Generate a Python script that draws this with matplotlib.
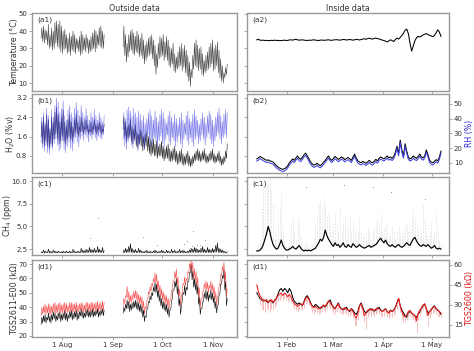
import numpy as np
import pandas as pd
import matplotlib
matplotlib.use("Agg")
import matplotlib.pyplot as plt
import matplotlib.dates as mdates

# ---------------- DATA ----------------
# Outside: segment 1 = 2021-07-19 .. 2021-08-26, segment 2 = 2021-09-07 .. 2021-11-09
out_seg1_start = "2021-07-19"
out_seg2_start = "2021-09-07"

# Temperature (°C) daily highs / lows
temp_hi_1 = [42, 43, 41, 40, 44, 38, 42, 40, 45, 46,
             44, 46, 43, 40, 41, 38, 36, 39, 37, 40,
             38, 36, 35, 37, 40, 38, 36, 38, 36, 35,
             37, 39, 41, 40, 38, 42, 43, 40, 38]
temp_lo_1 = [36, 34, 33, 35, 32, 30, 31, 29, 30, 33,
             31, 30, 28, 27, 29, 30, 27, 28, 26, 29,
             28, 27, 30, 28, 26, 27, 29, 28, 30, 27,
             28, 29, 30, 28, 30, 32, 31, 30, 30]
temp_hi_2 = [43, 38, 33, 38, 40, 41, 39, 37, 40, 38,
             36, 39, 35, 32, 34, 36, 37, 38, 35, 32,
             27, 33, 37, 36, 38, 34, 37, 35, 31, 30,
             33, 27, 25, 28, 31, 33, 30, 32, 29, 26,
             22, 18, 26, 33, 35, 32, 30, 31, 27, 23,
             26, 28, 31, 33, 35, 30, 32, 34, 29, 24,
             20, 16, 19, 21]
temp_lo_2 = [31, 26, 22, 25, 28, 29, 27, 26, 28, 27,
             25, 26, 24, 21, 23, 25, 26, 27, 24, 20,
             15, 19, 24, 25, 26, 23, 25, 23, 20, 19,
             21, 17, 16, 18, 19, 20, 17, 19, 16, 14,
             11, 8, 13, 18, 20, 19, 17, 18, 15, 14,
             16, 17, 18, 19, 21, 17, 18, 20, 16, 13,
             11, 10, 13, 15]

# H2O (%v) daily highs / lows
h2o_hi_1 = [2.2, 2.4, 2.1, 2.5, 2.3, 1.9, 2.4, 2.2, 2.6, 2.8,
            2.5, 2.2, 2.4, 2.7, 2.2, 2.0, 2.3, 2.5, 2.2, 2.0,
            2.3, 2.5, 2.2, 2.0, 2.4, 2.2, 2.0, 2.3, 2.1, 1.9,
            2.2, 2.0, 2.3, 2.1, 2.0, 2.2, 2.1, 1.9, 2.1]
h2o_lo_1 = [1.6, 1.3, 1.2, 1.4, 1.2, 1.1, 1.3, 1.2, 1.5, 1.7,
            1.5, 1.3, 1.4, 1.6, 1.4, 1.3, 1.5, 1.6, 1.5, 1.4,
            1.6, 1.8, 1.7, 1.6, 1.8, 1.8, 1.7, 1.9, 1.8, 1.7,
            1.8, 1.7, 1.9, 1.8, 1.7, 1.9, 1.8, 1.7, 1.8]
h2o_hi_2 = [2.4, 2.2, 2.0, 2.1, 2.3, 2.0, 1.9, 2.1, 1.8, 1.7,
            1.9, 1.8, 1.6, 1.7, 1.8, 1.6, 1.5, 1.4, 1.5, 1.3,
            1.4, 1.2, 1.3, 1.4, 1.2, 1.1, 1.2, 1.3, 1.1, 1.0,
            1.1, 1.2, 1.0, 0.9, 1.0, 1.1, 0.9, 0.8, 0.9, 1.0,
            0.8, 0.7, 0.8, 0.9, 1.0, 1.1, 1.0, 0.9, 1.0, 1.1,
            0.9, 0.8, 0.9, 1.0, 1.1, 0.9, 0.8, 0.9, 1.0, 0.8,
            0.7, 0.8, 1.0, 1.3]
h2o_lo_2 = [1.9, 1.6, 1.4, 1.5, 1.6, 1.4, 1.3, 1.5, 1.2, 1.1,
            1.3, 1.2, 1.0, 1.1, 1.2, 1.0, 0.9, 0.8, 0.9, 0.8,
            0.8, 0.7, 0.8, 0.8, 0.7, 0.6, 0.7, 0.7, 0.6, 0.55,
            0.6, 0.65, 0.55, 0.45, 0.5, 0.55, 0.45, 0.4, 0.45, 0.5,
            0.4, 0.35, 0.4, 0.5, 0.6, 0.65, 0.6, 0.55, 0.6, 0.65,
            0.55, 0.5, 0.55, 0.6, 0.65, 0.55, 0.5, 0.55, 0.6, 0.5,
            0.4, 0.45, 0.55, 0.7]

# RH (%) daily highs / lows
rh_hi_1 = [41, 44, 38, 47, 42, 34, 46, 41, 49, 54,
           51, 44, 47, 52, 42, 39, 46, 49, 44, 41,
           47, 51, 46, 42, 49, 44, 41, 47, 42, 39,
           44, 41, 46, 42, 39, 44, 41, 38, 42]
rh_lo_1 = [24, 20, 18, 22, 17, 16, 21, 19, 23, 26,
           22, 18, 20, 25, 19, 17, 21, 24, 20, 18,
           23, 27, 24, 21, 26, 28, 25, 29, 27, 24,
           28, 26, 29, 27, 25, 28, 27, 26, 29]
rh_hi_2 = [44, 40, 46, 48, 45, 42, 47, 44, 41, 45,
           43, 39, 42, 37, 40, 44, 46, 42, 39, 45,
           41, 38, 43, 46, 44, 40, 37, 42, 45, 41,
           38, 43, 40, 36, 41, 44, 39, 37, 42, 45,
           40, 38, 43, 46, 42, 39, 36, 40, 44, 41,
           37, 42, 45, 43, 39, 36, 41, 44, 47, 42,
           38, 43, 46, 44]
rh_lo_2 = [26, 21, 19, 24, 27, 22, 20, 25, 23, 18,
           22, 26, 21, 19, 24, 28, 25, 21, 23, 27,
           24, 20, 25, 28, 23, 21, 26, 29, 24, 22,
           27, 25, 21, 24, 28, 23, 20, 26, 29, 25,
           22, 27, 24, 21, 26, 28, 23, 25, 29, 26,
           22, 27, 30, 26, 23, 21, 25, 28, 30, 26,
           23, 27, 29, 27]

# CH4 (ppm) daily highs / lows
ch4_hi_1 = [2.2, 2.4, 2.3, 2.2, 2.5, 2.3, 2.2, 2.4, 2.3, 2.2,
            2.3, 2.2, 2.2, 2.3, 2.2, 2.3, 2.2, 2.3, 2.2, 2.5,
            2.3, 2.2, 2.3, 2.2, 2.6, 2.4, 2.3, 2.5, 2.4, 2.7,
            2.5, 2.4, 2.6, 2.4, 2.8, 2.5, 2.4, 2.7, 2.3]
ch4_lo_1 = [2.08, 2.10, 2.07, 2.09, 2.11, 2.08, 2.06, 2.10, 2.09, 2.07,
            2.08, 2.10, 2.09, 2.07, 2.08, 2.10, 2.09, 2.08, 2.07, 2.11,
            2.09, 2.08, 2.10, 2.08, 2.12, 2.10, 2.09, 2.11, 2.10, 2.13,
            2.11, 2.10, 2.12, 2.10, 2.14, 2.11, 2.10, 2.12, 2.09]
ch4_hi_2 = [2.4, 2.6, 2.5, 2.8, 3.1, 2.6, 2.4, 2.5, 2.3, 2.6,
            2.4, 2.3, 2.2, 2.3, 2.4, 2.2, 2.3, 2.2, 2.3, 2.4,
            2.3, 2.2, 2.3, 2.4, 2.3, 2.2, 2.4, 2.3, 2.2, 2.5,
            2.3, 2.4, 2.2, 2.3, 2.5, 2.3, 2.4, 2.3, 2.2, 2.3,
            2.4, 2.6, 2.5, 2.7, 2.6, 2.5, 2.4, 2.6, 2.8, 2.5,
            2.4, 2.7, 2.5, 2.4, 2.6, 2.5, 2.9, 3.2, 2.6, 2.5,
            2.4, 2.3, 2.2, 2.2]
ch4_lo_2 = [2.12, 2.10, 2.11, 2.13, 2.15, 2.12, 2.10, 2.11, 2.09, 2.12,
            2.10, 2.09, 2.08, 2.09, 2.10, 2.08, 2.09, 2.08, 2.09, 2.10,
            2.09, 2.08, 2.09, 2.10, 2.09, 2.08, 2.10, 2.09, 2.08, 2.11,
            2.09, 2.10, 2.08, 2.09, 2.11, 2.09, 2.10, 2.09, 2.08, 2.09,
            2.10, 2.12, 2.11, 2.13, 2.12, 2.11, 2.10, 2.12, 2.14, 2.11,
            2.10, 2.13, 2.11, 2.10, 2.12, 2.11, 2.15, 2.17, 2.12, 2.11,
            2.10, 2.09, 2.08, 2.08]
ch4_out_dates = ["2021-08-18", "2021-08-23", "2021-09-19", "2021-09-28", "2021-10-14",
                 "2021-10-16", "2021-10-19", "2021-10-20", "2021-10-22", "2021-10-24",
                 "2021-10-27", "2021-11-02"]
ch4_out_vals = [3.7, 5.9, 3.8, 2.9, 3.1, 3.4, 2.8, 4.5, 3.0, 2.9, 3.5, 2.8]

# TGS2611-E00 (kOhm) daily highs / lows
tgs11_hi_1 = [33, 34, 35, 33, 36, 34, 35, 37, 36, 34,
              36, 37, 35, 36, 38, 36, 35, 37, 38, 36,
              37, 38, 36, 37, 39, 37, 36, 38, 39, 37,
              38, 39, 37, 38, 39, 37, 38, 39, 38]
tgs11_lo_1 = [28, 29, 30, 29, 31, 30, 29, 31, 32, 30,
              31, 32, 30, 31, 32, 31, 30, 32, 33, 31,
              32, 33, 31, 32, 34, 33, 32, 33, 34, 33,
              33, 34, 33, 34, 35, 33, 34, 35, 34]
tgs11_hi_2 = [40, 42, 45, 44, 42, 43, 44, 45, 44, 43,
              42, 41, 38, 34, 38, 44, 48, 50, 54, 57,
              56, 52, 49, 46, 44, 43, 42, 40, 38, 44,
              52, 58, 60, 55, 46, 40, 50, 55, 54, 58,
              64, 70, 65, 60, 58, 55, 47, 39, 44, 50,
              52, 51, 49, 52, 50, 48, 44, 41, 48, 56,
              62, 66, 58, 46]
tgs11_lo_2 = [36, 37, 39, 39, 37, 38, 39, 40, 39, 38,
              37, 36, 33, 30, 33, 39, 43, 45, 48, 51,
              50, 47, 44, 41, 39, 38, 37, 35, 33, 38,
              46, 52, 54, 49, 41, 35, 44, 49, 48, 52,
              58, 64, 59, 54, 52, 49, 42, 35, 39, 44,
              46, 45, 44, 46, 45, 43, 39, 36, 42, 50,
              56, 60, 52, 41]

# TGS2600 (kOhm) daily highs / lows
tgs00_hi_1 = [28, 29, 31, 29, 31, 30, 29, 31, 32, 30,
              31, 32, 30, 31, 32, 31, 30, 32, 32, 31,
              31, 32, 30, 31, 32, 31, 30, 32, 32, 31,
              32, 32, 31, 32, 33, 31, 32, 33, 32]
tgs00_lo_1 = [22, 23, 24, 23, 24, 23, 23, 24, 25, 23,
              24, 25, 24, 24, 25, 24, 24, 25, 25, 24,
              25, 25, 24, 25, 26, 25, 24, 25, 26, 25,
              25, 26, 25, 26, 26, 25, 26, 26, 26]
tgs00_hi_2 = [35, 37, 44, 40, 37, 38, 40, 41, 40, 38,
              37, 36, 33, 29, 33, 40, 44, 46, 50, 54,
              53, 48, 45, 42, 40, 38, 37, 35, 33, 40,
              48, 55, 57, 51, 42, 35, 46, 51, 50, 55,
              61, 63, 62, 57, 55, 51, 43, 34, 40, 46,
              48, 47, 45, 48, 46, 44, 40, 36, 44, 53,
              59, 62, 55, 42]
tgs00_lo_2 = [29, 31, 36, 34, 31, 32, 34, 35, 34, 32,
              31, 30, 27, 23, 27, 34, 38, 40, 44, 47,
              46, 42, 39, 36, 34, 32, 31, 29, 27, 34,
              42, 48, 50, 45, 36, 29, 40, 45, 44, 48,
              54, 57, 55, 50, 48, 45, 37, 28, 34, 40,
              42, 41, 39, 42, 40, 38, 34, 30, 38, 46,
              52, 55, 48, 36]

# Inside: daily values 2022-01-13 .. 2022-05-06
in_start = "2022-01-13"
in_temp = [35.0, 35.3, 34.8, 34.7, 34.8, 34.6, 34.7, 34.5, 34.6, 34.7,
           34.6, 34.8, 34.6, 34.7, 34.5, 34.6, 34.7, 34.8, 34.6,
           34.7, 34.9, 35.0, 34.8, 35.1, 35.3, 35.0, 34.8, 34.9, 35.0,
           34.8, 34.7, 34.6, 34.8, 34.7, 34.9, 35.0, 34.8, 34.7, 34.6,
           34.8, 34.9, 34.7, 34.8, 34.9, 35.0, 34.8, 34.7,
           34.9, 35.0, 35.1, 34.9, 34.8, 35.0, 35.2, 35.1, 34.9, 35.0,
           35.2, 35.0, 34.8, 35.0, 35.3, 35.1, 34.9, 35.2, 35.4, 35.6,
           35.3, 35.7, 35.9, 35.6, 35.4, 35.8, 36.0, 35.7, 35.5, 35.2, 34.8,
           34.6, 34.2, 33.8, 34.4, 35.0, 34.6, 34.0, 35.2, 36.0, 35.4,
           36.4, 37.5, 38.8, 40.5, 41.2, 38.5, 33.0, 28.5, 31.5, 34.5,
           36.2, 37.0, 36.6, 37.2, 37.8, 38.2, 38.6, 38.0, 37.6, 37.2,
           36.8, 37.6, 39.0, 40.8, 39.5, 37.0]
in_h2o = [0.68, 0.72, 0.78, 0.74, 0.70, 0.66, 0.62, 0.64, 0.60, 0.58,
          0.55, 0.48, 0.40, 0.35, 0.30, 0.27, 0.25, 0.28, 0.32,
          0.40, 0.52, 0.60, 0.68, 0.62, 0.72, 0.80, 0.70, 0.66, 0.75,
          0.85, 0.92, 0.80, 0.68, 0.55, 0.48, 0.42, 0.45, 0.50, 0.44,
          0.40, 0.46, 0.55, 0.62, 0.72, 0.80, 0.68, 0.62,
          0.70, 0.78, 0.72, 0.66, 0.70, 0.76, 0.72, 0.65, 0.70, 0.74,
          0.68, 0.62, 0.75, 0.88, 0.72, 0.60, 0.55, 0.52, 0.58, 0.54,
          0.50, 0.56, 0.62, 0.55, 0.52, 0.58, 0.66, 0.60, 0.70, 0.76, 0.72,
          0.68, 0.74, 0.80, 0.72, 0.76, 0.70, 0.78, 0.95, 1.20, 0.90,
          1.45, 1.05, 0.80, 1.30, 1.00, 0.75, 0.68, 0.72, 0.80, 0.74,
          0.70, 0.78, 0.88, 0.76, 0.72, 0.80, 1.05, 0.85, 0.62, 0.55,
          0.52, 0.58, 0.65, 0.60, 0.75, 1.00]
in_rh = [11.3, 11.9, 12.9, 12.2, 11.6, 10.9, 10.3, 10.6, 9.9, 9.6,
         9.1, 7.9, 6.7, 5.9, 5.0, 4.6, 4.2, 4.7, 5.4,
         6.7, 8.6, 9.9, 11.3, 10.3, 11.9, 13.2, 11.6, 10.9, 12.4,
         14.1, 15.2, 13.2, 11.3, 9.1, 7.9, 7.0, 7.5, 8.3, 7.3,
         6.7, 7.7, 9.1, 10.3, 11.9, 13.2, 11.3, 10.3,
         11.6, 12.9, 11.9, 10.9, 11.6, 12.6, 11.9, 10.8, 11.6, 12.2,
         11.3, 10.3, 12.4, 14.5, 11.9, 9.9, 9.1, 8.6, 9.6, 9.0,
         8.3, 9.3, 10.3, 9.1, 8.6, 9.6, 10.9, 9.9, 11.6, 12.6, 11.9,
         11.3, 12.2, 13.2, 11.9, 12.6, 11.6, 12.9, 15.7, 19.8, 14.9,
         23.9, 17.3, 13.2, 21.4, 16.5, 12.4, 11.3, 11.9, 13.2, 12.2,
         11.6, 12.9, 14.5, 12.6, 11.9, 13.2, 17.3, 14.1, 10.3, 9.1,
         8.6, 9.6, 10.8, 9.9, 12.4, 16.5]
in_ch4 = [2.3, 2.3, 2.4, 2.6, 3.0, 3.6, 4.2, 5.0, 4.4, 3.6,
          3.0, 2.7, 2.5, 2.6, 3.0, 3.5, 2.9, 2.6, 2.4,
          2.4, 2.5, 2.6, 2.8, 2.6, 2.5, 2.7, 2.9, 2.6, 2.4,
          2.3, 2.4, 2.3, 2.4, 2.3, 2.4, 2.5, 2.6, 2.9, 3.2,
          3.6, 3.4, 3.8, 4.6, 4.0, 3.6, 3.3, 3.0,
          2.8, 3.2, 2.9, 3.0, 2.7, 2.9, 3.2, 2.8, 2.7, 3.0,
          2.8, 2.7, 3.1, 2.9, 2.7, 2.8, 3.0, 2.8, 2.7, 2.6,
          2.7, 2.8, 2.9, 2.7, 2.8, 2.9, 3.0, 3.2, 3.5, 3.7, 3.4,
          3.2, 3.5, 3.1, 2.9, 2.8, 3.0, 2.8, 2.7, 2.9, 3.0,
          2.8, 2.7, 2.8, 3.0, 3.2, 3.0, 2.9, 3.3, 3.6, 3.8,
          3.4, 3.1, 2.9, 2.8, 3.0, 2.9, 2.8, 3.0, 2.8, 2.6,
          2.7, 2.9, 2.6, 2.5, 2.6, 2.5]
in_ch4_max = [2.6, 3.0, 4.0, 7.0, 9.5, 10.2, 10.0, 9.8, 10.3, 9.0,
              7.5, 4.5, 3.5, 5.5, 7.0, 9.0, 5.0, 3.5, 3.0,
              3.0, 3.2, 5.5, 6.2, 4.5, 3.5, 6.0, 5.5, 4.0, 3.0,
              3.0, 3.5, 2.9, 3.0, 2.9, 3.2, 4.0, 5.0, 6.5, 7.5,
              8.0, 7.0, 8.2, 7.6, 6.0, 6.5, 5.0, 4.5,
              5.5, 6.5, 5.0, 4.5, 7.0, 4.5, 5.5, 6.0, 4.0, 5.0,
              6.0, 4.5, 5.5, 4.8, 4.0, 4.5, 6.0, 4.5, 4.0, 3.8,
              4.2, 5.0, 4.5, 4.0, 4.5, 5.0, 5.5, 6.0, 5.0, 6.5, 4.5,
              5.0, 5.5, 4.5, 4.0, 4.2, 5.0, 4.5, 4.0, 4.5, 5.0,
              4.2, 4.0, 4.5, 5.0, 5.5, 4.5, 4.8, 6.0, 6.8, 6.0,
              5.0, 4.5, 4.0, 4.5, 7.5, 6.0, 4.5, 4.0, 4.5, 5.5,
              4.0, 4.5, 6.5, 5.0, 3.5, 3.0]
ch4_in_dates = ["2022-02-13", "2022-03-08", "2022-03-26", "2022-04-06", "2022-04-27"]
ch4_in_vals = [9.3, 9.6, 9.3, 8.8, 8.0]
in_tgs11 = [50, 48, 46, 45, 44, 45, 44, 43, 45, 44,
            43, 45, 46, 49, 52, 53, 51, 53, 52,
            50, 53, 51, 47, 44, 43, 42, 43, 42, 41,
            44, 47, 48, 46, 43, 41, 40, 42, 41, 40,
            39, 40, 41, 40, 42, 44, 45, 42,
            40, 39, 41, 43, 40, 39, 38, 39, 40, 38,
            37, 39, 38, 36, 35, 37, 41, 43, 40, 37,
            36, 37, 38, 39, 38, 37, 38, 39, 40, 38, 37,
            38, 39, 37, 36, 38, 37, 38, 40, 43, 46,
            41, 38, 36, 34, 33, 36, 37, 36, 35, 34,
            33, 35, 37, 39, 41, 42, 39, 36, 37, 38,
            40, 41, 39, 38, 37, 35]
in_tgs00 = [45, 40, 37, 35, 34, 33, 34, 32, 33, 34,
            32, 33, 35, 37, 38, 39, 37, 39, 38,
            36, 38, 36, 33, 31, 30, 29, 30, 31, 30,
            32, 35, 36, 34, 31, 29, 28, 29, 28, 27,
            28, 29, 30, 29, 31, 33, 32, 30,
            28, 27, 29, 31, 28, 27, 27, 28, 27, 26,
            26, 27, 25, 22, 20, 24, 29, 31, 27, 22,
            24, 26, 27, 26, 27, 26, 27, 28, 27, 26, 25,
            26, 27, 25, 24, 26, 25, 26, 28, 31, 35,
            29, 25, 22, 21, 23, 25, 26, 24, 23, 22,
            18, 24, 26, 28, 30, 31, 27, 22, 25, 27,
            28, 29, 27, 26, 25, 24]
in_tgs00_min = [42, 35, 30, 27, 26, 25, 28, 26, 25, 27,
                26, 28, 30, 33, 34, 35, 33, 35, 34,
                32, 34, 32, 29, 27, 26, 25, 26, 27, 26,
                28, 31, 32, 30, 27, 25, 24, 25, 24, 23,
                24, 25, 26, 25, 27, 29, 28, 26,
                24, 23, 25, 27, 24, 23, 23, 24, 23, 22,
                22, 23, 20, 15, 14, 19, 25, 27, 22, 17,
                12, 21, 23, 22, 23, 22, 23, 24, 23, 22, 21,
                22, 23, 21, 20, 22, 21, 22, 24, 27, 30,
                25, 20, 17, 17, 19, 21, 22, 20, 19, 17,
                9, 19, 22, 24, 26, 27, 22, 14, 20, 23,
                24, 25, 23, 22, 21, 20]

# ---------------- helpers ----------------
def zigzag(start, lo, hi):
    days = pd.date_range(start, periods=len(lo), freq="D")
    t, v = [], []
    for d, a, b in zip(days, lo, hi):
        t += [d + pd.Timedelta(hours=5), d + pd.Timedelta(hours=15)]
        v += [a, b]
    return pd.DatetimeIndex(t), np.array(v)

def daily(start, vals):
    return pd.date_range(start, periods=len(vals), freq="D") + pd.Timedelta(hours=12)

def plot_out(ax, lo1, hi1, lo2, hi2, **kw):
    for s, lo, hi in ((out_seg1_start, lo1, hi1), (out_seg2_start, lo2, hi2)):
        t, v = zigzag(s, lo, hi)
        ax.plot(t, v, **kw)

plt.rcParams['font.family'] = ['DejaVu Sans']
FS = 5.0
LFS = 5.7
TXT = '#333333'
SP = '0.6'
fig = plt.figure(figsize=(4.74, 3.51), dpi=100)

W = 474.0; H = 351.0
cols = [(32, 237), (247, 449)]
rows = [(13, 90.5), (94, 173), (177, 255), (260, 337)]
axes = [[None, None] for _ in rows]
for i, (y0, y1) in enumerate(rows):
    for j, (x0, x1) in enumerate(cols):
        ax = fig.add_axes([x0 / W, 1 - y1 / H, (x1 - x0) / W, (y1 - y0) / H])
        for s in ax.spines.values():
            s.set_color(SP); s.set_linewidth(1.0)
        ax.tick_params(colors=SP, labelcolor=TXT, labelsize=FS, length=2, width=0.6, pad=1.5)
        axes[i][j] = ax

ylims = [(5.7, 50.5), (0.1, 3.35), (1.85, 10.45), (19.3, 72.8)]
yticks = [[10, 20, 30, 40, 50], [0.8, 1.6, 2.4, 3.2], [2.5, 5.0, 7.5, 10.0], [20, 30, 40, 50, 60, 70]]
ylabels = ["Temperature (°C)", "H$_2$O (%v)", "CH$_4$ (ppm)", "TGS2611-E00 (kΩ)"]
ylabel_x = [15, 10.5, 8, 15]   # label centre, pixels from the left edge
panel = [["(a1)", "(a2)"], ["(b1)", "(b2)"], ["(c1)", "(c1)"], ["(d1)", "(d1)"]]
xl_out = (pd.Timestamp("2021-07-13 16:00"), pd.Timestamp("2021-11-15 14:00"))
xl_in = (pd.Timestamp("2022-01-07 12:00"), pd.Timestamp("2022-05-11 10:00"))

def fmt(x, p):
    d = mdates.num2date(x)
    return f"{d.day} {d.strftime('%b')}"

for i in range(4):
    for j in range(2):
        ax = axes[i][j]
        ax.set_ylim(*ylims[i])
        ax.set_yticks(yticks[i])
        ax.set_xlim(*(xl_out if j == 0 else xl_in))
        ax.xaxis.set_major_locator(mdates.MonthLocator(bymonthday=1))
        ax.xaxis.set_major_formatter(plt.FuncFormatter(fmt))
        if i < 3:
            ax.tick_params(labelbottom=False)
        if j == 1:
            ax.tick_params(labelleft=False)
        else:
            ax.set_ylabel(ylabels[i], fontsize=LFS, color=TXT, va='center')
            ax.yaxis.set_label_coords((ylabel_x[i] - cols[0][0]) / (cols[0][1] - cols[0][0]), 0.5)
        ax.text(0.025, 0.96, panel[i][j], transform=ax.transAxes, fontsize=FS + 0.3,
                va='top', ha='left', color=TXT)

axes[0][0].set_title("Outside data", fontsize=LFS, color=TXT, pad=1.5)
axes[0][1].set_title("Inside data", fontsize=LFS, color=TXT, pad=1.5)

LW = 0.4
BLUE = '#4040e0'
RED = '#f02020'

# a1 / a2
plot_out(axes[0][0], temp_lo_1, temp_hi_1, temp_lo_2, temp_hi_2, color='#444444', lw=LW)
axes[0][1].plot(daily(in_start, in_temp), in_temp, color='black', lw=0.75)

# b1 / b2 with RH twins
rh_lim = (3.2, 56.7)
tb1 = axes[1][0].twinx(); tb2 = axes[1][1].twinx()
for t in (tb1, tb2):
    t.set_ylim(*rh_lim)
    for s in t.spines.values():
        s.set_visible(False)
tb1.tick_params(right=False, labelright=False)
tb2.set_yticks([10, 20, 30, 40, 50])
tb2.tick_params(colors=SP, labelcolor=TXT, labelsize=FS, length=2, width=0.6, pad=1.5)
tb2.set_ylabel("RH (%)", color='#2828d8', fontsize=LFS, labelpad=1.5)
plot_out(tb1, rh_lo_1, rh_hi_1, rh_lo_2, rh_hi_2, color=BLUE, lw=LW, alpha=0.7)
plot_out(axes[1][0], h2o_lo_1, h2o_hi_1, h2o_lo_2, h2o_hi_2, color='#222222', lw=LW)
tin = daily(in_start, in_h2o)
axes[1][1].plot(tin, in_h2o, color='black', lw=0.75)
tb2.plot(tin, in_rh, color=BLUE, lw=0.75)

# c1 / c2
plot_out(axes[2][0], ch4_lo_1, ch4_hi_1, ch4_lo_2, ch4_hi_2, color='black', lw=LW)
axes[2][0].scatter(pd.to_datetime(ch4_out_dates), ch4_out_vals, s=0.6, color='0.6', lw=0)
tc = daily(in_start, in_ch4)
axes[2][1].vlines(tc, in_ch4, in_ch4_max, colors='0.6', lw=0.45, linestyles=(0, (0.5, 1.8)))
axes[2][1].scatter(pd.to_datetime(ch4_in_dates), ch4_in_vals, s=0.6, color='0.55', lw=0)
axes[2][1].plot(tc, in_ch4, color='black', lw=0.85)

# d1 / d2 with TGS2600 twins
r_lim = (6.0, 63.7)
td1 = axes[3][0].twinx(); td2 = axes[3][1].twinx()
for t in (td1, td2):
    t.set_ylim(*r_lim)
    for s in t.spines.values():
        s.set_visible(False)
td1.tick_params(right=False, labelright=False)
td2.set_yticks([15, 30, 45, 60])
td2.tick_params(colors=SP, labelcolor=TXT, labelsize=FS, length=2, width=0.6, pad=1.5)
td2.set_ylabel("TGS2600 (kΩ)", color='#e01010', fontsize=LFS, labelpad=1.5)
plot_out(axes[3][0], tgs11_lo_1, tgs11_hi_1, tgs11_lo_2, tgs11_hi_2, color='black', lw=LW)
plot_out(td1, tgs00_lo_1, tgs00_hi_1, tgs00_lo_2, tgs00_hi_2, color=RED, lw=LW, alpha=0.8)
td = daily(in_start, in_tgs11)
axes[3][1].plot(td, in_tgs11, color='black', lw=0.75)
td2.vlines(td, in_tgs00_min, in_tgs00, colors='#f49090', lw=0.4)
td2.plot(td, in_tgs00, color=RED, lw=0.75)

fig.savefig("out.png", dpi=100)
